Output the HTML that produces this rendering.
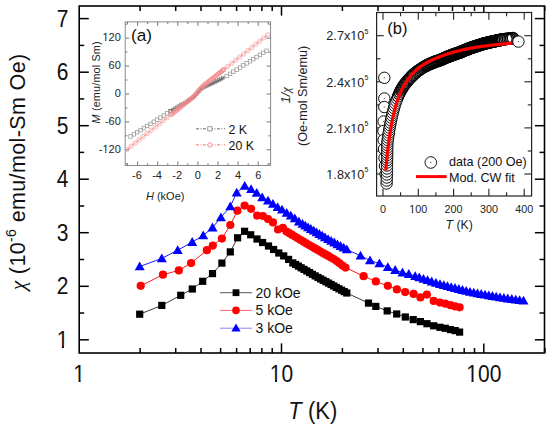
<!DOCTYPE html>
<html><head><meta charset="utf-8"><style>
html,body{margin:0;padding:0;background:#fff;}
body{width:550px;height:428px;overflow:hidden;font-family:"Liberation Sans", sans-serif;}
svg{display:block;}
</style></head><body>
<svg width="550" height="428" viewBox="0 0 550 428" font-family='"Liberation Sans", sans-serif'>
<rect width="550" height="428" fill="#fff"/>
<polyline points="139.7,314.2 161.8,305.4 180.7,295.3 192.3,289.0 202.7,281.3 212.5,273.6 221.9,263.1 230.3,251.9 237.6,237.8 244.6,231.3 250.7,234.8 257.0,239.0 262.6,242.5 268.5,246.0 273.6,249.5 278.8,253.0 283.7,255.9 288.6,259.4 292.8,262.9 295.6,264.5 298.4,266.1 301.2,267.8 304.0,269.4 306.8,271.0 309.6,272.6 312.4,274.3 315.2,275.9 318.0,277.5 320.6,278.9 323.2,280.3 325.9,281.7 328.5,283.1 331.1,284.5 333.7,286.0 336.3,287.4 338.9,288.8 341.6,290.2 344.2,291.6 346.8,293.0 368.5,303.1 375.8,306.4 387.2,310.9 396.7,314.0 405.3,317.0 413.2,319.6 420.4,321.6 427.0,323.7 433.7,325.8 440.0,327.3 445.3,328.3 450.5,329.6 455.2,330.6 459.6,332.1" fill="none" stroke="#222" stroke-width="0.9" />
<polyline points="140.7,285.8 163.0,274.7 178.8,270.4 191.1,263.1 206.9,250.2 212.8,245.6 221.9,238.6 230.3,225.0 237.4,210.7 244.6,205.6 251.1,208.8 257.2,215.6 262.9,216.0 268.0,219.1 273.0,222.4 278.0,229.5 282.9,227.9 286.5,231.5 289.3,233.2 292.1,234.9 295.0,236.6 297.8,238.3 300.6,240.0 303.5,241.7 306.3,243.4 309.1,245.1 311.8,246.6 314.5,248.2 317.3,249.7 320.0,251.3 322.7,252.8 325.4,254.4 328.2,255.9 330.9,257.5 333.6,259.0 336.6,261.1 339.6,263.3 342.5,265.5 345.5,267.6 363.6,276.2 375.8,281.4 387.8,285.8 396.9,289.4 405.2,292.1 413.6,293.9 420.4,297.4 426.9,294.6 433.7,300.9 440.0,302.6 445.3,303.7 450.5,305.2 455.2,306.4 459.6,307.3" fill="none" stroke="#f00" stroke-width="0.9" />
<polyline points="139.7,266.5 161.8,258.4 177.7,250.2 192.2,242.1 203.2,235.5 212.5,227.6 220.9,217.5 230.3,206.5 236.7,192.7 244.7,186.0 251.1,189.3 256.7,193.0 262.2,197.5 268.0,200.7 272.9,204.0 277.6,207.2 282.0,209.8 286.7,213.0 290.8,215.7 294.8,218.5 298.9,221.7 302.5,224.0 305.3,225.7 308.1,227.4 310.9,229.1 313.8,230.8 316.6,232.4 319.4,234.1 322.2,235.8 325.0,237.5 328.1,239.2 331.2,240.9 334.3,242.6 337.5,244.4 340.6,246.1 343.7,247.8 346.8,249.5 360.5,255.8 370.0,260.4 379.4,263.5 387.8,267.3 395.2,270.1 402.5,272.6 408.8,274.1 415.2,276.2 419.3,277.6 423.5,278.9 427.6,280.2 431.7,281.6 435.9,282.9 440.0,284.3 443.8,285.3 447.5,286.2 451.2,287.2 455.0,288.1 458.8,289.1 462.5,290.1 466.2,291.0 470.0,292.0 473.8,292.7 477.5,293.4 481.2,294.1 485.0,294.8 488.8,295.4 492.5,296.1 496.2,296.8 500.0,297.5 503.9,298.1 507.8,298.6 511.8,299.1 515.7,299.7 519.6,300.2 523.5,300.8" fill="none" stroke="#00f" stroke-width="0.9" />
<g fill="#000"><rect x="136.1" y="310.6" width="7.2" height="7.2"/><rect x="158.2" y="301.8" width="7.2" height="7.2"/><rect x="177.1" y="291.7" width="7.2" height="7.2"/><rect x="188.7" y="285.4" width="7.2" height="7.2"/><rect x="199.1" y="277.7" width="7.2" height="7.2"/><rect x="208.9" y="270.0" width="7.2" height="7.2"/><rect x="218.3" y="259.5" width="7.2" height="7.2"/><rect x="226.7" y="248.3" width="7.2" height="7.2"/><rect x="234.0" y="234.2" width="7.2" height="7.2"/><rect x="241.0" y="227.7" width="7.2" height="7.2"/><rect x="247.1" y="231.2" width="7.2" height="7.2"/><rect x="253.4" y="235.4" width="7.2" height="7.2"/><rect x="259.0" y="238.9" width="7.2" height="7.2"/><rect x="264.9" y="242.4" width="7.2" height="7.2"/><rect x="270.0" y="245.9" width="7.2" height="7.2"/><rect x="275.2" y="249.4" width="7.2" height="7.2"/><rect x="280.1" y="252.3" width="7.2" height="7.2"/><rect x="285.0" y="255.8" width="7.2" height="7.2"/><rect x="289.2" y="259.3" width="7.2" height="7.2"/><rect x="292.0" y="260.9" width="7.2" height="7.2"/><rect x="294.8" y="262.5" width="7.2" height="7.2"/><rect x="297.6" y="264.2" width="7.2" height="7.2"/><rect x="300.4" y="265.8" width="7.2" height="7.2"/><rect x="303.2" y="267.4" width="7.2" height="7.2"/><rect x="306.0" y="269.0" width="7.2" height="7.2"/><rect x="308.8" y="270.7" width="7.2" height="7.2"/><rect x="311.6" y="272.3" width="7.2" height="7.2"/><rect x="314.4" y="273.9" width="7.2" height="7.2"/><rect x="317.0" y="275.3" width="7.2" height="7.2"/><rect x="319.6" y="276.7" width="7.2" height="7.2"/><rect x="322.3" y="278.1" width="7.2" height="7.2"/><rect x="324.9" y="279.5" width="7.2" height="7.2"/><rect x="327.5" y="280.9" width="7.2" height="7.2"/><rect x="330.1" y="282.4" width="7.2" height="7.2"/><rect x="332.7" y="283.8" width="7.2" height="7.2"/><rect x="335.3" y="285.2" width="7.2" height="7.2"/><rect x="338.0" y="286.6" width="7.2" height="7.2"/><rect x="340.6" y="288.0" width="7.2" height="7.2"/><rect x="343.2" y="289.4" width="7.2" height="7.2"/><rect x="364.9" y="299.5" width="7.2" height="7.2"/><rect x="372.2" y="302.8" width="7.2" height="7.2"/><rect x="383.6" y="307.3" width="7.2" height="7.2"/><rect x="393.1" y="310.4" width="7.2" height="7.2"/><rect x="401.7" y="313.4" width="7.2" height="7.2"/><rect x="409.6" y="316.0" width="7.2" height="7.2"/><rect x="416.8" y="318.0" width="7.2" height="7.2"/><rect x="423.4" y="320.1" width="7.2" height="7.2"/><rect x="430.1" y="322.2" width="7.2" height="7.2"/><rect x="436.4" y="323.7" width="7.2" height="7.2"/><rect x="441.7" y="324.7" width="7.2" height="7.2"/><rect x="446.9" y="326.0" width="7.2" height="7.2"/><rect x="451.6" y="327.0" width="7.2" height="7.2"/><rect x="456.0" y="328.5" width="7.2" height="7.2"/></g>
<g fill="#f00"><circle cx="140.7" cy="285.8" r="4.1"/><circle cx="163.0" cy="274.7" r="4.1"/><circle cx="178.8" cy="270.4" r="4.1"/><circle cx="191.1" cy="263.1" r="4.1"/><circle cx="206.9" cy="250.2" r="4.1"/><circle cx="212.8" cy="245.6" r="4.1"/><circle cx="221.9" cy="238.6" r="4.1"/><circle cx="230.3" cy="225.0" r="4.1"/><circle cx="237.4" cy="210.7" r="4.1"/><circle cx="244.6" cy="205.6" r="4.1"/><circle cx="251.1" cy="208.8" r="4.1"/><circle cx="257.2" cy="215.6" r="4.1"/><circle cx="262.9" cy="216.0" r="4.1"/><circle cx="268.0" cy="219.1" r="4.1"/><circle cx="273.0" cy="222.4" r="4.1"/><circle cx="278.0" cy="229.5" r="4.1"/><circle cx="282.9" cy="227.9" r="4.1"/><circle cx="286.5" cy="231.5" r="4.1"/><circle cx="289.3" cy="233.2" r="4.1"/><circle cx="292.1" cy="234.9" r="4.1"/><circle cx="295.0" cy="236.6" r="4.1"/><circle cx="297.8" cy="238.3" r="4.1"/><circle cx="300.6" cy="240.0" r="4.1"/><circle cx="303.5" cy="241.7" r="4.1"/><circle cx="306.3" cy="243.4" r="4.1"/><circle cx="309.1" cy="245.1" r="4.1"/><circle cx="311.8" cy="246.6" r="4.1"/><circle cx="314.5" cy="248.2" r="4.1"/><circle cx="317.3" cy="249.7" r="4.1"/><circle cx="320.0" cy="251.3" r="4.1"/><circle cx="322.7" cy="252.8" r="4.1"/><circle cx="325.4" cy="254.4" r="4.1"/><circle cx="328.2" cy="255.9" r="4.1"/><circle cx="330.9" cy="257.5" r="4.1"/><circle cx="333.6" cy="259.0" r="4.1"/><circle cx="336.6" cy="261.1" r="4.1"/><circle cx="339.6" cy="263.3" r="4.1"/><circle cx="342.5" cy="265.5" r="4.1"/><circle cx="345.5" cy="267.6" r="4.1"/><circle cx="363.6" cy="276.2" r="4.1"/><circle cx="375.8" cy="281.4" r="4.1"/><circle cx="387.8" cy="285.8" r="4.1"/><circle cx="396.9" cy="289.4" r="4.1"/><circle cx="405.2" cy="292.1" r="4.1"/><circle cx="413.6" cy="293.9" r="4.1"/><circle cx="420.4" cy="297.4" r="4.1"/><circle cx="426.9" cy="294.6" r="4.1"/><circle cx="433.7" cy="300.9" r="4.1"/><circle cx="440.0" cy="302.6" r="4.1"/><circle cx="445.3" cy="303.7" r="4.1"/><circle cx="450.5" cy="305.2" r="4.1"/><circle cx="455.2" cy="306.4" r="4.1"/><circle cx="459.6" cy="307.3" r="4.1"/></g>
<g fill="#00f"><path d="M139.7 261.5L144.7 270.3L134.7 270.3Z"/><path d="M161.8 253.4L166.8 262.2L156.8 262.2Z"/><path d="M177.7 245.2L182.7 254.0L172.7 254.0Z"/><path d="M192.2 237.1L197.2 245.9L187.2 245.9Z"/><path d="M203.2 230.5L208.2 239.3L198.2 239.3Z"/><path d="M212.5 222.6L217.5 231.4L207.5 231.4Z"/><path d="M220.9 212.5L225.9 221.3L215.9 221.3Z"/><path d="M230.3 201.5L235.3 210.3L225.3 210.3Z"/><path d="M236.7 187.7L241.7 196.5L231.7 196.5Z"/><path d="M244.7 181.0L249.7 189.8L239.7 189.8Z"/><path d="M251.1 184.3L256.1 193.1L246.1 193.1Z"/><path d="M256.7 188.0L261.7 196.8L251.7 196.8Z"/><path d="M262.2 192.5L267.2 201.3L257.2 201.3Z"/><path d="M268.0 195.7L273.0 204.5L263.0 204.5Z"/><path d="M272.9 199.0L277.9 207.8L267.9 207.8Z"/><path d="M277.6 202.2L282.6 211.0L272.6 211.0Z"/><path d="M282.0 204.8L287.0 213.6L277.0 213.6Z"/><path d="M286.7 208.0L291.7 216.8L281.7 216.8Z"/><path d="M290.8 210.7L295.8 219.5L285.8 219.5Z"/><path d="M294.8 213.5L299.8 222.3L289.8 222.3Z"/><path d="M298.9 216.7L303.9 225.5L293.9 225.5Z"/><path d="M302.5 219.0L307.5 227.8L297.5 227.8Z"/><path d="M305.3 220.7L310.3 229.5L300.3 229.5Z"/><path d="M308.1 222.4L313.1 231.2L303.1 231.2Z"/><path d="M310.9 224.1L315.9 232.9L305.9 232.9Z"/><path d="M313.8 225.8L318.8 234.6L308.8 234.6Z"/><path d="M316.6 227.4L321.6 236.2L311.6 236.2Z"/><path d="M319.4 229.1L324.4 237.9L314.4 237.9Z"/><path d="M322.2 230.8L327.2 239.6L317.2 239.6Z"/><path d="M325.0 232.5L330.0 241.3L320.0 241.3Z"/><path d="M328.1 234.2L333.1 243.0L323.1 243.0Z"/><path d="M331.2 235.9L336.2 244.7L326.2 244.7Z"/><path d="M334.3 237.6L339.3 246.4L329.3 246.4Z"/><path d="M337.5 239.4L342.5 248.2L332.5 248.2Z"/><path d="M340.6 241.1L345.6 249.9L335.6 249.9Z"/><path d="M343.7 242.8L348.7 251.6L338.7 251.6Z"/><path d="M346.8 244.5L351.8 253.3L341.8 253.3Z"/><path d="M360.5 250.8L365.5 259.6L355.5 259.6Z"/><path d="M370.0 255.4L375.0 264.2L365.0 264.2Z"/><path d="M379.4 258.5L384.4 267.3L374.4 267.3Z"/><path d="M387.8 262.3L392.8 271.1L382.8 271.1Z"/><path d="M395.2 265.1L400.2 273.9L390.2 273.9Z"/><path d="M402.5 267.6L407.5 276.4L397.5 276.4Z"/><path d="M408.8 269.1L413.8 277.9L403.8 277.9Z"/><path d="M415.2 271.2L420.2 280.0L410.2 280.0Z"/><path d="M419.3 272.6L424.3 281.3L414.3 281.3Z"/><path d="M423.5 273.9L428.5 282.7L418.5 282.7Z"/><path d="M427.6 275.2L432.6 284.0L422.6 284.0Z"/><path d="M431.7 276.6L436.7 285.4L426.7 285.4Z"/><path d="M435.9 277.9L440.9 286.7L430.9 286.7Z"/><path d="M440.0 279.3L445.0 288.1L435.0 288.1Z"/><path d="M443.8 280.3L448.8 289.1L438.8 289.1Z"/><path d="M447.5 281.2L452.5 290.0L442.5 290.0Z"/><path d="M451.2 282.2L456.2 291.0L446.2 291.0Z"/><path d="M455.0 283.1L460.0 291.9L450.0 291.9Z"/><path d="M458.8 284.1L463.8 292.9L453.8 292.9Z"/><path d="M462.5 285.1L467.5 293.9L457.5 293.9Z"/><path d="M466.2 286.0L471.2 294.8L461.2 294.8Z"/><path d="M470.0 287.0L475.0 295.8L465.0 295.8Z"/><path d="M473.8 287.7L478.8 296.5L468.8 296.5Z"/><path d="M477.5 288.4L482.5 297.2L472.5 297.2Z"/><path d="M481.2 289.1L486.2 297.9L476.2 297.9Z"/><path d="M485.0 289.8L490.0 298.5L480.0 298.5Z"/><path d="M488.8 290.4L493.8 299.2L483.8 299.2Z"/><path d="M492.5 291.1L497.5 299.9L487.5 299.9Z"/><path d="M496.2 291.8L501.2 300.6L491.2 300.6Z"/><path d="M500.0 292.5L505.0 301.3L495.0 301.3Z"/><path d="M503.9 293.1L508.9 301.8L498.9 301.8Z"/><path d="M507.8 293.6L512.8 302.4L502.8 302.4Z"/><path d="M511.8 294.1L516.8 302.9L506.8 302.9Z"/><path d="M515.7 294.7L520.7 303.5L510.7 303.5Z"/><path d="M519.6 295.2L524.6 304.0L514.6 304.0Z"/><path d="M523.5 295.8L528.5 304.6L518.5 304.6Z"/></g>
<line x1="220" y1="292.7" x2="252" y2="292.7" stroke="#555" stroke-width="1"/><rect x="232.6" y="289.3" width="6.8" height="6.8" fill="#000"/>
<line x1="220" y1="310.4" x2="252" y2="310.4" stroke="#f66" stroke-width="1"/><circle cx="236" cy="310.4" r="3.8" fill="#f00"/>
<line x1="220" y1="328.2" x2="252" y2="328.2" stroke="#88f" stroke-width="1"/><path d="M236 323.59999999999997L240.6 331.59999999999997L231.4 331.59999999999997Z" fill="#00f"/>
<g font-size="14" fill="#111"><text x="255.5" y="297.5">20 kOe</text><text x="255.5" y="315.2">5 kOe</text><text x="255.5" y="333">3 kOe</text></g>
<g stroke="#000" stroke-width="1.5"><rect x="79.2" y="6.0" width="465.3" height="347.0" fill="none" stroke="#000" stroke-width="1.6"/><line x1="140.1" y1="353.0" x2="140.1" y2="348.0"/><line x1="140.1" y1="6.0" x2="140.1" y2="11.0"/><line x1="175.7" y1="353.0" x2="175.7" y2="348.0"/><line x1="175.7" y1="6.0" x2="175.7" y2="11.0"/><line x1="201.0" y1="353.0" x2="201.0" y2="348.0"/><line x1="201.0" y1="6.0" x2="201.0" y2="11.0"/><line x1="220.6" y1="353.0" x2="220.6" y2="348.0"/><line x1="220.6" y1="6.0" x2="220.6" y2="11.0"/><line x1="236.6" y1="353.0" x2="236.6" y2="348.0"/><line x1="236.6" y1="6.0" x2="236.6" y2="11.0"/><line x1="250.2" y1="353.0" x2="250.2" y2="348.0"/><line x1="250.2" y1="6.0" x2="250.2" y2="11.0"/><line x1="261.9" y1="353.0" x2="261.9" y2="348.0"/><line x1="261.9" y1="6.0" x2="261.9" y2="11.0"/><line x1="272.2" y1="353.0" x2="272.2" y2="348.0"/><line x1="272.2" y1="6.0" x2="272.2" y2="11.0"/><line x1="281.5" y1="353.0" x2="281.5" y2="343.4"/><line x1="281.5" y1="6.0" x2="281.5" y2="15.6"/><line x1="342.4" y1="353.0" x2="342.4" y2="348.0"/><line x1="342.4" y1="6.0" x2="342.4" y2="11.0"/><line x1="378.0" y1="353.0" x2="378.0" y2="348.0"/><line x1="378.0" y1="6.0" x2="378.0" y2="11.0"/><line x1="403.3" y1="353.0" x2="403.3" y2="348.0"/><line x1="403.3" y1="6.0" x2="403.3" y2="11.0"/><line x1="422.9" y1="353.0" x2="422.9" y2="348.0"/><line x1="422.9" y1="6.0" x2="422.9" y2="11.0"/><line x1="438.9" y1="353.0" x2="438.9" y2="348.0"/><line x1="438.9" y1="6.0" x2="438.9" y2="11.0"/><line x1="452.5" y1="353.0" x2="452.5" y2="348.0"/><line x1="452.5" y1="6.0" x2="452.5" y2="11.0"/><line x1="464.2" y1="353.0" x2="464.2" y2="348.0"/><line x1="464.2" y1="6.0" x2="464.2" y2="11.0"/><line x1="474.5" y1="353.0" x2="474.5" y2="348.0"/><line x1="474.5" y1="6.0" x2="474.5" y2="11.0"/><line x1="483.8" y1="353.0" x2="483.8" y2="343.4"/><line x1="483.8" y1="6.0" x2="483.8" y2="15.6"/><line x1="544.7" y1="353.0" x2="544.7" y2="348.0"/><line x1="544.7" y1="6.0" x2="544.7" y2="11.0"/><line x1="544.7" y1="353.0" x2="544.7" y2="348.0"/><line x1="79.2" y1="339.8" x2="88.8" y2="339.8"/><line x1="544.5" y1="339.8" x2="534.9" y2="339.8"/><line x1="79.2" y1="313.0" x2="84.2" y2="313.0"/><line x1="544.5" y1="313.0" x2="539.5" y2="313.0"/><line x1="79.2" y1="286.3" x2="88.8" y2="286.3"/><line x1="544.5" y1="286.3" x2="534.9" y2="286.3"/><line x1="79.2" y1="259.5" x2="84.2" y2="259.5"/><line x1="544.5" y1="259.5" x2="539.5" y2="259.5"/><line x1="79.2" y1="232.7" x2="88.8" y2="232.7"/><line x1="544.5" y1="232.7" x2="534.9" y2="232.7"/><line x1="79.2" y1="206.0" x2="84.2" y2="206.0"/><line x1="544.5" y1="206.0" x2="539.5" y2="206.0"/><line x1="79.2" y1="179.2" x2="88.8" y2="179.2"/><line x1="544.5" y1="179.2" x2="534.9" y2="179.2"/><line x1="79.2" y1="152.4" x2="84.2" y2="152.4"/><line x1="544.5" y1="152.4" x2="539.5" y2="152.4"/><line x1="79.2" y1="125.7" x2="88.8" y2="125.7"/><line x1="544.5" y1="125.7" x2="534.9" y2="125.7"/><line x1="79.2" y1="98.9" x2="84.2" y2="98.9"/><line x1="544.5" y1="98.9" x2="539.5" y2="98.9"/><line x1="79.2" y1="72.2" x2="88.8" y2="72.2"/><line x1="544.5" y1="72.2" x2="534.9" y2="72.2"/><line x1="79.2" y1="45.4" x2="84.2" y2="45.4"/><line x1="544.5" y1="45.4" x2="539.5" y2="45.4"/><line x1="79.2" y1="18.6" x2="88.8" y2="18.6"/><line x1="544.5" y1="18.6" x2="534.9" y2="18.6"/></g>
<g transform="translate(79.20,382.20) scale(1,1.15)"><text font-size="21" fill="#111" text-anchor="middle">1</text><g fill="#fff"><rect x="-4.94" y="-2.02" width="4.28" height="2.47"/><rect x="1.40" y="-2.02" width="4.11" height="2.47"/></g></g><g transform="translate(281.50,382.20) scale(1,1.15)"><text font-size="21" fill="#111" text-anchor="middle">10</text><g fill="#fff"><rect x="-10.78" y="-2.02" width="4.28" height="2.47"/><rect x="-4.44" y="-2.02" width="4.11" height="2.47"/></g></g><g transform="translate(483.80,382.20) scale(1,1.15)"><text font-size="21" fill="#111" text-anchor="middle">100</text><g fill="#fff"><rect x="-16.62" y="-2.02" width="4.28" height="2.47"/><rect x="-10.28" y="-2.02" width="4.11" height="2.47"/></g></g><g transform="translate(68.40,347.70) scale(1,1.15)"><text font-size="21" fill="#111" text-anchor="end">1</text><g fill="#fff"><rect x="-10.78" y="-2.02" width="4.28" height="2.47"/><rect x="-4.44" y="-2.02" width="4.11" height="2.47"/></g></g><g transform="translate(68.40,294.17) scale(1,1.15)"><text font-size="21" fill="#111" text-anchor="end">2</text></g><g transform="translate(68.40,240.64) scale(1,1.15)"><text font-size="21" fill="#111" text-anchor="end">3</text></g><g transform="translate(68.40,187.11) scale(1,1.15)"><text font-size="21" fill="#111" text-anchor="end">4</text></g><g transform="translate(68.40,133.58) scale(1,1.15)"><text font-size="21" fill="#111" text-anchor="end">5</text></g><g transform="translate(68.40,80.05) scale(1,1.15)"><text font-size="21" fill="#111" text-anchor="end">6</text></g><g transform="translate(68.40,26.52) scale(1,1.15)"><text font-size="21" fill="#111" text-anchor="end">7</text></g>
<text transform="translate(312.80,418.50) scale(1,1.06)" font-size="22" fill="#111" text-anchor="middle" ><tspan font-style="italic">T</tspan> (K)</text>
<text transform="translate(25,290.3) rotate(-90)" font-size="21.5" fill="#111" textLength="236.5" lengthAdjust="spacing"><tspan font-family="Liberation Serif" font-style="italic">χ</tspan> (10<tspan font-size="14" dy="-9.3">-6</tspan><tspan dy="9.3"> emu/mol-Sm Oe)</tspan></text>
<rect x="125.2" y="21.9" width="145.40000000000003" height="143.6" fill="#fff" stroke="#8a8a8a" stroke-width="1"/><g stroke="#777" stroke-width="1"><line x1="127.5" y1="165.5" x2="127.5" y2="163.3"/><line x1="127.5" y1="21.9" x2="127.5" y2="24.099999999999998"/><line x1="137.6" y1="165.5" x2="137.6" y2="161.5"/><line x1="137.6" y1="21.9" x2="137.6" y2="25.9"/><line x1="147.7" y1="165.5" x2="147.7" y2="163.3"/><line x1="147.7" y1="21.9" x2="147.7" y2="24.099999999999998"/><line x1="157.7" y1="165.5" x2="157.7" y2="161.5"/><line x1="157.7" y1="21.9" x2="157.7" y2="25.9"/><line x1="167.8" y1="165.5" x2="167.8" y2="163.3"/><line x1="167.8" y1="21.9" x2="167.8" y2="24.099999999999998"/><line x1="177.8" y1="165.5" x2="177.8" y2="161.5"/><line x1="177.8" y1="21.9" x2="177.8" y2="25.9"/><line x1="187.8" y1="165.5" x2="187.8" y2="163.3"/><line x1="187.8" y1="21.9" x2="187.8" y2="24.099999999999998"/><line x1="197.9" y1="165.5" x2="197.9" y2="161.5"/><line x1="197.9" y1="21.9" x2="197.9" y2="25.9"/><line x1="208.0" y1="165.5" x2="208.0" y2="163.3"/><line x1="208.0" y1="21.9" x2="208.0" y2="24.099999999999998"/><line x1="218.0" y1="165.5" x2="218.0" y2="161.5"/><line x1="218.0" y1="21.9" x2="218.0" y2="25.9"/><line x1="228.1" y1="165.5" x2="228.1" y2="163.3"/><line x1="228.1" y1="21.9" x2="228.1" y2="24.099999999999998"/><line x1="238.1" y1="165.5" x2="238.1" y2="161.5"/><line x1="238.1" y1="21.9" x2="238.1" y2="25.9"/><line x1="248.2" y1="165.5" x2="248.2" y2="163.3"/><line x1="248.2" y1="21.9" x2="248.2" y2="24.099999999999998"/><line x1="258.2" y1="165.5" x2="258.2" y2="161.5"/><line x1="258.2" y1="21.9" x2="258.2" y2="25.9"/><line x1="268.2" y1="165.5" x2="268.2" y2="163.3"/><line x1="268.2" y1="21.9" x2="268.2" y2="24.099999999999998"/><line x1="125.2" y1="163.8" x2="127.4" y2="163.8"/><line x1="270.6" y1="163.8" x2="268.40000000000003" y2="163.8"/><line x1="125.2" y1="149.8" x2="129.2" y2="149.8"/><line x1="270.6" y1="149.8" x2="266.6" y2="149.8"/><line x1="125.2" y1="135.8" x2="127.4" y2="135.8"/><line x1="270.6" y1="135.8" x2="268.40000000000003" y2="135.8"/><line x1="125.2" y1="121.9" x2="129.2" y2="121.9"/><line x1="270.6" y1="121.9" x2="266.6" y2="121.9"/><line x1="125.2" y1="108.0" x2="127.4" y2="108.0"/><line x1="270.6" y1="108.0" x2="268.40000000000003" y2="108.0"/><line x1="125.2" y1="94.0" x2="129.2" y2="94.0"/><line x1="270.6" y1="94.0" x2="266.6" y2="94.0"/><line x1="125.2" y1="80.0" x2="127.4" y2="80.0"/><line x1="270.6" y1="80.0" x2="268.40000000000003" y2="80.0"/><line x1="125.2" y1="66.1" x2="129.2" y2="66.1"/><line x1="270.6" y1="66.1" x2="266.6" y2="66.1"/><line x1="125.2" y1="52.1" x2="127.4" y2="52.1"/><line x1="270.6" y1="52.1" x2="268.40000000000003" y2="52.1"/><line x1="125.2" y1="38.2" x2="129.2" y2="38.2"/><line x1="270.6" y1="38.2" x2="266.6" y2="38.2"/><line x1="125.2" y1="24.2" x2="127.4" y2="24.2"/><line x1="270.6" y1="24.2" x2="268.40000000000003" y2="24.2"/></g><g font-size="11" fill="#222"><text x="137.0" y="178.7" text-anchor="middle">-6</text><text x="157.1" y="178.7" text-anchor="middle">-4</text><text x="177.2" y="178.7" text-anchor="middle">-2</text><text x="197.9" y="178.7" text-anchor="middle">0</text><text x="218.0" y="178.7" text-anchor="middle">2</text><text x="238.1" y="178.7" text-anchor="middle">4</text><text x="258.2" y="178.7" text-anchor="middle">6</text><g transform="translate(120.80,152.70) scale(1,1.0)"><text font-size="11" fill="#222" text-anchor="end">-120</text><g fill="#fff"><rect x="-18.22" y="-1.27" width="2.57" height="1.72"/><rect x="-14.56" y="-1.27" width="2.49" height="1.72"/></g></g><g transform="translate(120.80,124.80) scale(1,1.0)"><text font-size="11" fill="#222" text-anchor="end">-60</text></g><g transform="translate(120.80,96.90) scale(1,1.0)"><text font-size="11" fill="#222" text-anchor="end">0</text></g><g transform="translate(120.80,69.00) scale(1,1.0)"><text font-size="11" fill="#222" text-anchor="end">60</text></g><g transform="translate(120.80,41.10) scale(1,1.0)"><text font-size="11" fill="#222" text-anchor="end">120</text><g fill="#fff"><rect x="-18.22" y="-1.27" width="2.57" height="1.72"/><rect x="-14.56" y="-1.27" width="2.49" height="1.72"/></g></g></g><text x="165.2" y="199.6" font-size="11" fill="#222" text-anchor="middle"><tspan font-style="italic">H</tspan> (kOe)</text><text transform="translate(99.8,123.4) rotate(-90)" font-size="10.8" fill="#222" textLength="82" lengthAdjust="spacing"><tspan font-style="italic">M</tspan> (emu/mol Sm)</text><text transform="translate(131.00,41.30) scale(1,0.95)" font-size="17.2" fill="#111" text-anchor="start" >(a)</text><g fill="none" stroke="#9a9a9a" stroke-width="0.75"><rect x="128.8" y="134.7" width="3.5" height="3.5"/><rect x="132.1" y="132.6" width="3.5" height="3.5"/><rect x="135.4" y="130.5" width="3.5" height="3.5"/><rect x="138.8" y="128.4" width="3.5" height="3.5"/><rect x="142.1" y="126.3" width="3.5" height="3.5"/><rect x="145.4" y="124.2" width="3.5" height="3.5"/><rect x="148.7" y="122.1" width="3.5" height="3.5"/><rect x="152.0" y="120.0" width="3.5" height="3.5"/><rect x="155.3" y="117.9" width="3.5" height="3.5"/><rect x="158.7" y="115.8" width="3.5" height="3.5"/><rect x="162.0" y="113.7" width="3.5" height="3.5"/><rect x="165.3" y="111.6" width="3.5" height="3.5"/><rect x="168.6" y="109.5" width="3.5" height="3.5"/><rect x="225.0" y="74.2" width="3.5" height="3.5"/><rect x="228.3" y="72.1" width="3.5" height="3.5"/><rect x="231.6" y="70.0" width="3.5" height="3.5"/><rect x="234.9" y="67.9" width="3.5" height="3.5"/><rect x="238.3" y="65.8" width="3.5" height="3.5"/><rect x="241.6" y="63.7" width="3.5" height="3.5"/><rect x="244.9" y="61.6" width="3.5" height="3.5"/><rect x="248.2" y="59.5" width="3.5" height="3.5"/><rect x="251.5" y="57.4" width="3.5" height="3.5"/><rect x="254.8" y="55.3" width="3.5" height="3.5"/><rect x="258.2" y="53.2" width="3.5" height="3.5"/><rect x="261.5" y="51.1" width="3.5" height="3.5"/><rect x="264.8" y="49.0" width="3.5" height="3.5"/></g><polyline points="170.8,111.0 171.8,110.3 172.8,109.8 173.8,109.2 174.8,108.6 175.8,108.1 176.8,107.5 177.8,106.9 178.8,106.4 179.8,105.8 180.8,105.2 181.8,104.6 182.8,104.0 183.8,103.4 184.8,102.8 185.8,102.2 186.8,101.6 187.9,100.9 188.9,100.3 189.9,99.7 190.9,99.0 191.9,98.4 192.9,97.7 193.9,97.0 194.9,96.1 195.9,95.2 196.9,94.0 197.9,92.7 198.9,91.4 199.9,90.3 200.9,89.4 201.9,88.6 202.9,88.0 203.9,87.4 204.9,86.9 205.9,86.4 206.9,86.0 208.0,85.5 209.0,85.0 210.0,84.6 211.0,84.1 212.0,83.6 213.0,83.2 214.0,82.7 215.0,82.2 216.0,81.7 217.0,81.2 218.0,80.7 219.0,80.2 220.0,79.7 221.0,79.2 222.0,78.7 223.0,78.1 224.0,77.6" fill="none" stroke="#555" stroke-width="1.8" stroke-linejoin="round" opacity="0.8"/><g fill="none" stroke="#666" stroke-width="0.5"><rect x="169.2" y="109.4" width="3.2" height="3.2"/><rect x="171.2" y="108.2" width="3.2" height="3.2"/><rect x="173.2" y="107.0" width="3.2" height="3.2"/><rect x="175.2" y="105.9" width="3.2" height="3.2"/><rect x="177.2" y="104.8" width="3.2" height="3.2"/><rect x="179.2" y="103.6" width="3.2" height="3.2"/><rect x="181.2" y="102.4" width="3.2" height="3.2"/><rect x="183.2" y="101.2" width="3.2" height="3.2"/><rect x="185.2" y="100.0" width="3.2" height="3.2"/><rect x="187.3" y="98.7" width="3.2" height="3.2"/><rect x="189.3" y="97.4" width="3.2" height="3.2"/><rect x="191.3" y="96.1" width="3.2" height="3.2"/><rect x="193.3" y="94.5" width="3.2" height="3.2"/><rect x="195.3" y="92.4" width="3.2" height="3.2"/><rect x="197.3" y="89.8" width="3.2" height="3.2"/><rect x="199.3" y="87.8" width="3.2" height="3.2"/><rect x="201.3" y="86.4" width="3.2" height="3.2"/><rect x="203.3" y="85.3" width="3.2" height="3.2"/><rect x="205.3" y="84.4" width="3.2" height="3.2"/><rect x="207.4" y="83.4" width="3.2" height="3.2"/><rect x="209.4" y="82.5" width="3.2" height="3.2"/><rect x="211.4" y="81.6" width="3.2" height="3.2"/><rect x="213.4" y="80.6" width="3.2" height="3.2"/><rect x="215.4" y="79.6" width="3.2" height="3.2"/><rect x="217.4" y="78.6" width="3.2" height="3.2"/><rect x="219.4" y="77.6" width="3.2" height="3.2"/><rect x="221.4" y="76.5" width="3.2" height="3.2"/></g><polyline points="127.0,149.4 131.1,146.2 135.1,143.0 139.1,139.8 143.1,136.6 147.1,133.5 151.2,130.3 155.2,127.1 159.2,123.9 163.2,120.7 167.2,117.6 171.3,114.4 171.8,114.0 173.0,113.0 174.2,112.1 175.4,111.1 176.6,110.2 177.8,109.2 179.0,108.3 180.2,107.3 181.4,106.3 182.6,105.4 183.8,104.4 185.0,103.5 186.2,102.5 187.4,101.6 188.7,100.6 189.9,99.6 191.1,98.6 192.3,97.6 193.5,96.6 194.7,95.4 195.9,94.1 197.1,92.7 198.3,91.2 199.5,89.7 200.7,88.4 201.9,87.2 203.1,86.1 204.3,85.0 205.5,84.0 206.7,83.1 208.0,82.1 209.2,81.1 210.4,80.2 211.6,79.2 212.8,78.3 214.0,77.3 215.2,76.4 216.4,75.4 217.6,74.5 218.8,73.5 220.0,72.6 221.2,71.6 222.4,70.6 223.5,69.8 223.6,69.7 227.5,66.6 231.6,63.4 235.6,60.2 239.6,57.0 243.6,53.9 247.6,50.7 251.7,47.5 255.7,44.3 259.7,41.1 263.7,38.0 267.7,34.8" fill="none" stroke="#f66" stroke-width="0.7" /><g fill="none" stroke="#f59a9a" stroke-width="0.75"><circle cx="127.0" cy="149.4" r="2.2"/><circle cx="131.1" cy="146.2" r="2.2"/><circle cx="135.1" cy="143.0" r="2.2"/><circle cx="139.1" cy="139.8" r="2.2"/><circle cx="143.1" cy="136.6" r="2.2"/><circle cx="147.1" cy="133.5" r="2.2"/><circle cx="151.2" cy="130.3" r="2.2"/><circle cx="155.2" cy="127.1" r="2.2"/><circle cx="159.2" cy="123.9" r="2.2"/><circle cx="163.2" cy="120.7" r="2.2"/><circle cx="167.2" cy="117.6" r="2.2"/><circle cx="171.3" cy="114.4" r="2.2"/><circle cx="223.5" cy="69.8" r="2.2"/><circle cx="227.5" cy="66.6" r="2.2"/><circle cx="231.6" cy="63.4" r="2.2"/><circle cx="235.6" cy="60.2" r="2.2"/><circle cx="239.6" cy="57.0" r="2.2"/><circle cx="243.6" cy="53.9" r="2.2"/><circle cx="247.6" cy="50.7" r="2.2"/><circle cx="251.7" cy="47.5" r="2.2"/><circle cx="255.7" cy="44.3" r="2.2"/><circle cx="259.7" cy="41.1" r="2.2"/><circle cx="263.7" cy="38.0" r="2.2"/><circle cx="267.7" cy="34.8" r="2.2"/></g><g fill="none" stroke="#f48a8a" stroke-width="0.8"><circle cx="171.8" cy="114.0" r="2.1"/><circle cx="173.0" cy="113.0" r="2.1"/><circle cx="174.2" cy="112.1" r="2.1"/><circle cx="175.4" cy="111.1" r="2.1"/><circle cx="176.6" cy="110.2" r="2.1"/><circle cx="177.8" cy="109.2" r="2.1"/><circle cx="179.0" cy="108.3" r="2.1"/><circle cx="180.2" cy="107.3" r="2.1"/><circle cx="181.4" cy="106.3" r="2.1"/><circle cx="182.6" cy="105.4" r="2.1"/><circle cx="183.8" cy="104.4" r="2.1"/><circle cx="185.0" cy="103.5" r="2.1"/><circle cx="186.2" cy="102.5" r="2.1"/><circle cx="187.4" cy="101.6" r="2.1"/><circle cx="188.7" cy="100.6" r="2.1"/><circle cx="189.9" cy="99.6" r="2.1"/><circle cx="191.1" cy="98.6" r="2.1"/><circle cx="192.3" cy="97.6" r="2.1"/><circle cx="193.5" cy="96.6" r="2.1"/><circle cx="194.7" cy="95.4" r="2.1"/><circle cx="195.9" cy="94.1" r="2.1"/><circle cx="197.1" cy="92.7" r="2.1"/><circle cx="198.3" cy="91.2" r="2.1"/><circle cx="199.5" cy="89.7" r="2.1"/><circle cx="200.7" cy="88.4" r="2.1"/><circle cx="201.9" cy="87.2" r="2.1"/><circle cx="203.1" cy="86.1" r="2.1"/><circle cx="204.3" cy="85.0" r="2.1"/><circle cx="205.5" cy="84.0" r="2.1"/><circle cx="206.7" cy="83.1" r="2.1"/><circle cx="208.0" cy="82.1" r="2.1"/><circle cx="209.2" cy="81.1" r="2.1"/><circle cx="210.4" cy="80.2" r="2.1"/><circle cx="211.6" cy="79.2" r="2.1"/><circle cx="212.8" cy="78.3" r="2.1"/><circle cx="214.0" cy="77.3" r="2.1"/><circle cx="215.2" cy="76.4" r="2.1"/><circle cx="216.4" cy="75.4" r="2.1"/><circle cx="217.6" cy="74.5" r="2.1"/><circle cx="218.8" cy="73.5" r="2.1"/><circle cx="220.0" cy="72.6" r="2.1"/><circle cx="221.2" cy="71.6" r="2.1"/><circle cx="222.4" cy="70.6" r="2.1"/><circle cx="223.6" cy="69.7" r="2.1"/></g><line x1="196" y1="128.8" x2="225" y2="128.8" stroke="#444" stroke-width="0.8" stroke-dasharray="3 1.5 1 1.5"/><rect x="207.8" y="126.7" width="4.2" height="4.2" fill="#fff" stroke="#888" stroke-width="0.8"/><line x1="196" y1="144.9" x2="225" y2="144.9" stroke="#f44" stroke-width="0.8" stroke-dasharray="3 1.5 1 1.5"/><circle cx="210" cy="144.9" r="2.2" fill="#fff" stroke="#f27070" stroke-width="0.8"/><g font-size="12.4" fill="#111"><text x="228.5" y="134">2 K</text><text x="228.5" y="150">20 K</text></g>
<rect x="376.6" y="12.5" width="155.0" height="183.5" fill="#fff" stroke="#222" stroke-width="1.2"/><g stroke="#222" stroke-width="1.1"><line x1="383.0" y1="196.0" x2="383.0" y2="188.8"/><line x1="383.0" y1="12.5" x2="383.0" y2="19.7"/><line x1="400.6" y1="196.0" x2="400.6" y2="192.2"/><line x1="400.6" y1="12.5" x2="400.6" y2="16.3"/><line x1="418.3" y1="196.0" x2="418.3" y2="188.8"/><line x1="418.3" y1="12.5" x2="418.3" y2="19.7"/><line x1="435.9" y1="196.0" x2="435.9" y2="192.2"/><line x1="435.9" y1="12.5" x2="435.9" y2="16.3"/><line x1="453.6" y1="196.0" x2="453.6" y2="188.8"/><line x1="453.6" y1="12.5" x2="453.6" y2="19.7"/><line x1="471.2" y1="196.0" x2="471.2" y2="192.2"/><line x1="471.2" y1="12.5" x2="471.2" y2="16.3"/><line x1="488.9" y1="196.0" x2="488.9" y2="188.8"/><line x1="488.9" y1="12.5" x2="488.9" y2="19.7"/><line x1="506.6" y1="196.0" x2="506.6" y2="192.2"/><line x1="506.6" y1="12.5" x2="506.6" y2="16.3"/><line x1="524.2" y1="196.0" x2="524.2" y2="188.8"/><line x1="524.2" y1="12.5" x2="524.2" y2="19.7"/><line x1="376.6" y1="174.0" x2="383.8" y2="174.0"/><line x1="531.6" y1="174.0" x2="524.4" y2="174.0"/><line x1="376.6" y1="151.0" x2="380.40000000000003" y2="151.0"/><line x1="531.6" y1="151.0" x2="527.8000000000001" y2="151.0"/><line x1="376.6" y1="127.9" x2="383.8" y2="127.9"/><line x1="531.6" y1="127.9" x2="524.4" y2="127.9"/><line x1="376.6" y1="104.9" x2="380.40000000000003" y2="104.9"/><line x1="531.6" y1="104.9" x2="527.8000000000001" y2="104.9"/><line x1="376.6" y1="81.8" x2="383.8" y2="81.8"/><line x1="531.6" y1="81.8" x2="524.4" y2="81.8"/><line x1="376.6" y1="58.8" x2="380.40000000000003" y2="58.8"/><line x1="531.6" y1="58.8" x2="527.8000000000001" y2="58.8"/><line x1="376.6" y1="35.7" x2="383.8" y2="35.7"/><line x1="531.6" y1="35.7" x2="524.4" y2="35.7"/></g><g font-size="10.8" fill="#222"><g transform="translate(383.00,213.40) scale(1,1.0)"><text font-size="10.8" fill="#222" text-anchor="middle">0</text></g><g transform="translate(418.30,213.40) scale(1,1.0)"><text font-size="10.8" fill="#222" text-anchor="middle">100</text><g fill="#fff"><rect x="-8.89" y="-1.26" width="2.54" height="1.71"/><rect x="-5.29" y="-1.26" width="2.46" height="1.71"/></g></g><g transform="translate(453.60,213.40) scale(1,1.0)"><text font-size="10.8" fill="#222" text-anchor="middle">200</text></g><g transform="translate(488.90,213.40) scale(1,1.0)"><text font-size="10.8" fill="#222" text-anchor="middle">300</text></g><g transform="translate(524.20,213.40) scale(1,1.0)"><text font-size="10.8" fill="#222" text-anchor="middle">400</text></g><g transform="translate(364.40,40.40) scale(1,1.0)"><text font-size="12.7" fill="#222" text-anchor="end">2.7x10</text><g fill="#fff"><rect x="-13.86" y="-1.40" width="2.86" height="1.85"/><rect x="-9.75" y="-1.40" width="2.76" height="1.85"/></g></g><text x="364.5" y="34.1" font-size="7">5</text><g transform="translate(364.40,86.50) scale(1,1.0)"><text font-size="12.7" fill="#222" text-anchor="end">2.4x10</text><g fill="#fff"><rect x="-13.86" y="-1.40" width="2.86" height="1.85"/><rect x="-9.75" y="-1.40" width="2.76" height="1.85"/></g></g><text x="364.5" y="80.2" font-size="7">5</text><g transform="translate(364.40,132.60) scale(1,1.0)"><text font-size="12.7" fill="#222" text-anchor="end">2.1x10</text><g fill="#fff"><rect x="-27.27" y="-1.40" width="2.86" height="1.85"/><rect x="-23.16" y="-1.40" width="2.76" height="1.85"/><rect x="-13.86" y="-1.40" width="2.86" height="1.85"/><rect x="-9.75" y="-1.40" width="2.76" height="1.85"/></g></g><text x="364.5" y="126.3" font-size="7">5</text><g transform="translate(364.40,178.70) scale(1,1.0)"><text font-size="12.7" fill="#222" text-anchor="end">1.8x10</text><g fill="#fff"><rect x="-37.86" y="-1.40" width="2.86" height="1.85"/><rect x="-33.75" y="-1.40" width="2.76" height="1.85"/><rect x="-13.86" y="-1.40" width="2.86" height="1.85"/><rect x="-9.75" y="-1.40" width="2.76" height="1.85"/></g></g><text x="364.5" y="172.4" font-size="7">5</text></g><text x="459.2" y="229.2" font-size="12.3" fill="#222" text-anchor="middle"><tspan font-style="italic">T</tspan> (K)</text><text transform="translate(289.6,95.2) rotate(-90)" font-size="12.6" fill="#222" text-anchor="middle" font-style="italic">1/<tspan font-family="Liberation Serif">χ</tspan></text><text transform="translate(307.3,95.9) rotate(-90)" font-size="12.6" fill="#222" text-anchor="middle">(Oe-mol Sm/emu)</text><text x="387.3" y="34.2" font-size="16.5" fill="#111">(b)</text><g fill="#fff" stroke="#000"><circle cx="384.30" cy="77.80" r="5.7" stroke-width="0.95"/><circle cx="384.30" cy="98.50" r="5.7" stroke-width="0.95"/><circle cx="384.30" cy="107.00" r="5.7" stroke-width="0.95"/><circle cx="383.60" cy="121.50" r="5.7" stroke-width="0.95"/><circle cx="383.40" cy="131.00" r="5.7" stroke-width="0.95"/><circle cx="383.60" cy="140.00" r="5.7" stroke-width="0.95"/><circle cx="384.00" cy="149.00" r="5.7" stroke-width="0.95"/><circle cx="384.50" cy="158.00" r="5.7" stroke-width="0.95"/><circle cx="385.00" cy="166.00" r="5.7" stroke-width="0.95"/><circle cx="385.60" cy="174.00" r="5.7" stroke-width="0.95"/><circle cx="386.60" cy="183.50" r="5.7" stroke-width="0.95"/><circle cx="386.72" cy="180.50" r="5.7" stroke-width="0.95"/><circle cx="386.84" cy="177.50" r="5.7" stroke-width="0.95"/><circle cx="386.92" cy="174.51" r="5.7" stroke-width="0.95"/><circle cx="386.95" cy="171.51" r="5.7" stroke-width="0.95"/><circle cx="386.99" cy="168.51" r="5.7" stroke-width="0.95"/><circle cx="387.03" cy="165.51" r="5.7" stroke-width="0.95"/><circle cx="387.07" cy="162.51" r="5.7" stroke-width="0.95"/><circle cx="387.10" cy="160.01" r="5.7" stroke-width="0.95"/><circle cx="387.13" cy="157.51" r="5.7" stroke-width="0.95"/><circle cx="387.16" cy="155.01" r="5.7" stroke-width="0.95"/><circle cx="387.19" cy="152.51" r="5.7" stroke-width="0.95"/><circle cx="387.22" cy="150.01" r="5.7" stroke-width="0.95"/><circle cx="387.25" cy="147.51" r="5.7" stroke-width="0.95"/><circle cx="387.28" cy="145.01" r="5.7" stroke-width="0.95"/><circle cx="387.40" cy="142.52" r="5.7" stroke-width="0.95"/><circle cx="387.73" cy="140.04" r="5.7" stroke-width="0.95"/><circle cx="388.08" cy="137.56" r="5.7" stroke-width="0.95"/><circle cx="388.44" cy="135.09" r="5.7" stroke-width="0.95"/><circle cx="388.82" cy="132.62" r="5.7" stroke-width="0.95"/><circle cx="389.21" cy="130.15" r="5.7" stroke-width="0.95"/><circle cx="389.63" cy="127.68" r="5.7" stroke-width="0.95"/><circle cx="390.07" cy="125.22" r="5.7" stroke-width="0.95"/><circle cx="390.54" cy="122.77" r="5.7" stroke-width="0.95"/><circle cx="391.04" cy="120.32" r="5.7" stroke-width="0.95"/><circle cx="391.57" cy="117.87" r="5.7" stroke-width="0.95"/><circle cx="392.12" cy="115.43" r="5.7" stroke-width="0.95"/><circle cx="392.70" cy="113.00" r="5.7" stroke-width="0.95"/><circle cx="393.32" cy="110.58" r="5.7" stroke-width="0.95"/><circle cx="393.98" cy="108.17" r="5.7" stroke-width="0.95"/><circle cx="394.68" cy="105.77" r="5.7" stroke-width="0.95"/><circle cx="395.43" cy="103.39" r="5.7" stroke-width="0.95"/><circle cx="396.25" cy="101.02" r="5.7" stroke-width="0.95"/><circle cx="397.12" cy="98.68" r="5.7" stroke-width="0.95"/><circle cx="398.05" cy="96.36" r="5.7" stroke-width="1.1"/><circle cx="399.04" cy="94.07" r="5.7" stroke-width="1.1"/><circle cx="399.89" cy="92.25" r="5.7" stroke-width="1.1"/><circle cx="400.83" cy="90.49" r="5.7" stroke-width="1.1"/><circle cx="401.38" cy="89.53" r="5.7" stroke-width="1.1"/><circle cx="401.94" cy="88.59" r="5.7" stroke-width="1.1"/><circle cx="402.51" cy="87.65" r="5.7" stroke-width="1.1"/><circle cx="403.11" cy="86.72" r="5.7" stroke-width="1.1"/><circle cx="403.72" cy="85.81" r="5.7" stroke-width="1.1"/><circle cx="404.34" cy="84.90" r="5.7" stroke-width="1.1"/><circle cx="404.98" cy="84.01" r="5.7" stroke-width="1.1"/><circle cx="405.64" cy="83.13" r="5.7" stroke-width="1.1"/><circle cx="406.32" cy="82.26" r="5.7" stroke-width="1.1"/><circle cx="407.02" cy="81.41" r="5.7" stroke-width="1.1"/><circle cx="407.73" cy="80.57" r="5.7" stroke-width="1.1"/><circle cx="408.46" cy="79.75" r="5.7" stroke-width="1.1"/><circle cx="409.21" cy="78.95" r="5.7" stroke-width="1.1"/><circle cx="409.97" cy="78.15" r="5.7" stroke-width="1.1"/><circle cx="410.72" cy="77.34" r="5.7" stroke-width="1.1"/><circle cx="411.47" cy="76.54" r="5.7" stroke-width="1.1"/><circle cx="412.24" cy="75.76" r="5.7" stroke-width="1.1"/><circle cx="413.03" cy="74.99" r="5.7" stroke-width="1.1"/><circle cx="413.84" cy="74.24" r="5.7" stroke-width="1.1"/><circle cx="414.66" cy="73.51" r="5.7" stroke-width="1.1"/><circle cx="415.50" cy="72.80" r="5.7" stroke-width="1.1"/><circle cx="416.36" cy="72.11" r="5.7" stroke-width="1.1"/><circle cx="417.23" cy="71.44" r="5.7" stroke-width="1.1"/><circle cx="418.12" cy="70.79" r="5.7" stroke-width="1.1"/><circle cx="419.02" cy="70.16" r="5.7" stroke-width="1.1"/><circle cx="419.93" cy="69.55" r="5.7" stroke-width="1.1"/><circle cx="420.84" cy="68.93" r="5.7" stroke-width="1.1"/><circle cx="421.76" cy="68.32" r="5.7" stroke-width="1.1"/><circle cx="422.68" cy="67.73" r="5.7" stroke-width="1.1"/><circle cx="423.62" cy="67.16" r="5.7" stroke-width="1.1"/><circle cx="424.57" cy="66.61" r="5.7" stroke-width="1.1"/><circle cx="425.54" cy="66.07" r="5.7" stroke-width="1.35"/><circle cx="426.51" cy="65.55" r="5.7" stroke-width="1.35"/><circle cx="427.48" cy="65.05" r="5.7" stroke-width="1.35"/><circle cx="428.47" cy="64.56" r="5.7" stroke-width="1.35"/><circle cx="429.47" cy="64.10" r="5.7" stroke-width="1.35"/><circle cx="430.47" cy="63.64" r="5.7" stroke-width="1.35"/><circle cx="431.48" cy="63.20" r="5.7" stroke-width="1.35"/><circle cx="432.49" cy="62.78" r="5.7" stroke-width="1.35"/><circle cx="433.51" cy="62.37" r="5.7" stroke-width="1.35"/><circle cx="434.54" cy="61.98" r="5.7" stroke-width="1.35"/><circle cx="435.57" cy="61.60" r="5.7" stroke-width="1.35"/><circle cx="436.61" cy="61.23" r="5.7" stroke-width="1.35"/><circle cx="437.65" cy="60.88" r="5.7" stroke-width="1.35"/><circle cx="438.70" cy="60.54" r="5.7" stroke-width="1.35"/><circle cx="439.75" cy="60.21" r="5.7" stroke-width="1.35"/><circle cx="440.76" cy="59.77" r="5.7" stroke-width="1.35"/><circle cx="441.30" cy="59.52" r="5.7" stroke-width="1.35"/><circle cx="441.84" cy="59.26" r="5.7" stroke-width="1.35"/><circle cx="442.39" cy="59.02" r="5.7" stroke-width="1.35"/><circle cx="442.94" cy="58.77" r="5.7" stroke-width="1.35"/><circle cx="443.49" cy="58.53" r="5.7" stroke-width="1.35"/><circle cx="444.03" cy="58.28" r="5.7" stroke-width="1.35"/><circle cx="444.58" cy="58.05" r="5.7" stroke-width="1.35"/><circle cx="445.14" cy="57.81" r="5.7" stroke-width="1.35"/><circle cx="445.69" cy="57.58" r="5.7" stroke-width="1.35"/><circle cx="446.24" cy="57.34" r="5.7" stroke-width="1.35"/><circle cx="446.80" cy="57.11" r="5.7" stroke-width="1.35"/><circle cx="447.35" cy="56.89" r="5.7" stroke-width="1.35"/><circle cx="447.91" cy="56.66" r="5.7" stroke-width="1.35"/><circle cx="448.47" cy="56.44" r="5.7" stroke-width="1.35"/><circle cx="449.02" cy="56.22" r="5.7" stroke-width="1.35"/><circle cx="449.58" cy="56.00" r="5.7" stroke-width="1.35"/><circle cx="450.14" cy="55.78" r="5.7" stroke-width="1.35"/><circle cx="450.70" cy="55.57" r="5.7" stroke-width="1.35"/><circle cx="451.26" cy="55.36" r="5.7" stroke-width="1.35"/><circle cx="451.82" cy="55.14" r="5.7" stroke-width="1.35"/><circle cx="452.39" cy="54.94" r="5.7" stroke-width="1.35"/><circle cx="452.95" cy="54.73" r="5.7" stroke-width="1.35"/><circle cx="453.51" cy="54.52" r="5.7" stroke-width="1.35"/><circle cx="454.08" cy="54.32" r="5.7" stroke-width="1.35"/><circle cx="454.64" cy="54.12" r="5.7" stroke-width="1.35"/><circle cx="455.21" cy="53.92" r="5.7" stroke-width="1.35"/><circle cx="455.78" cy="53.72" r="5.7" stroke-width="1.35"/><circle cx="456.34" cy="53.53" r="5.7" stroke-width="1.35"/><circle cx="456.91" cy="53.33" r="5.7" stroke-width="1.35"/><circle cx="457.48" cy="53.14" r="5.7" stroke-width="1.35"/><circle cx="458.05" cy="52.95" r="5.7" stroke-width="1.35"/><circle cx="458.62" cy="52.76" r="5.7" stroke-width="1.35"/><circle cx="459.19" cy="52.57" r="5.7" stroke-width="1.35"/><circle cx="459.76" cy="52.38" r="5.7" stroke-width="1.35"/><circle cx="460.32" cy="52.17" r="5.7" stroke-width="1.35"/><circle cx="460.87" cy="51.93" r="5.7" stroke-width="1.35"/><circle cx="461.42" cy="51.69" r="5.7" stroke-width="1.35"/><circle cx="461.97" cy="51.46" r="5.7" stroke-width="1.35"/><circle cx="462.52" cy="51.22" r="5.7" stroke-width="1.35"/><circle cx="463.07" cy="50.99" r="5.7" stroke-width="1.35"/><circle cx="463.63" cy="50.76" r="5.7" stroke-width="1.35"/><circle cx="464.18" cy="50.53" r="5.7" stroke-width="1.35"/><circle cx="464.74" cy="50.30" r="5.7" stroke-width="1.35"/><circle cx="465.29" cy="50.07" r="5.7" stroke-width="1.35"/><circle cx="465.85" cy="49.84" r="5.7" stroke-width="1.35"/><circle cx="466.40" cy="49.61" r="5.7" stroke-width="1.35"/><circle cx="466.96" cy="49.39" r="5.7" stroke-width="1.35"/><circle cx="467.51" cy="49.16" r="5.7" stroke-width="1.35"/><circle cx="468.07" cy="48.94" r="5.7" stroke-width="1.35"/><circle cx="468.63" cy="48.72" r="5.7" stroke-width="1.35"/><circle cx="469.19" cy="48.50" r="5.7" stroke-width="1.35"/><circle cx="469.75" cy="48.28" r="5.7" stroke-width="1.35"/><circle cx="470.31" cy="48.07" r="5.7" stroke-width="1.35"/><circle cx="470.87" cy="47.86" r="5.7" stroke-width="1.35"/><circle cx="471.43" cy="47.65" r="5.7" stroke-width="1.35"/><circle cx="472.00" cy="47.45" r="5.7" stroke-width="1.35"/><circle cx="472.57" cy="47.26" r="5.7" stroke-width="1.35"/><circle cx="473.14" cy="47.07" r="5.7" stroke-width="1.35"/><circle cx="473.71" cy="46.88" r="5.7" stroke-width="1.35"/><circle cx="474.28" cy="46.69" r="5.7" stroke-width="1.35"/><circle cx="474.85" cy="46.51" r="5.7" stroke-width="1.35"/><circle cx="475.42" cy="46.32" r="5.7" stroke-width="1.35"/><circle cx="475.99" cy="46.14" r="5.7" stroke-width="1.35"/><circle cx="476.56" cy="45.95" r="5.7" stroke-width="1.35"/><circle cx="477.13" cy="45.77" r="5.7" stroke-width="1.35"/><circle cx="477.70" cy="45.59" r="5.7" stroke-width="1.35"/><circle cx="478.27" cy="45.41" r="5.7" stroke-width="1.35"/><circle cx="478.85" cy="45.23" r="5.7" stroke-width="1.35"/><circle cx="479.42" cy="45.05" r="5.7" stroke-width="1.35"/><circle cx="479.99" cy="44.87" r="5.7" stroke-width="1.35"/><circle cx="480.56" cy="44.69" r="5.7" stroke-width="1.35"/><circle cx="481.14" cy="44.52" r="5.7" stroke-width="1.35"/><circle cx="481.71" cy="44.34" r="5.7" stroke-width="1.35"/><circle cx="482.29" cy="44.16" r="5.7" stroke-width="1.35"/><circle cx="482.86" cy="43.99" r="5.7" stroke-width="1.35"/><circle cx="483.43" cy="43.82" r="5.7" stroke-width="1.35"/><circle cx="484.01" cy="43.64" r="5.7" stroke-width="1.35"/><circle cx="484.58" cy="43.47" r="5.7" stroke-width="1.35"/><circle cx="485.16" cy="43.31" r="5.7" stroke-width="1.35"/><circle cx="485.74" cy="43.17" r="5.7" stroke-width="1.35"/><circle cx="486.33" cy="43.03" r="5.7" stroke-width="1.35"/><circle cx="486.91" cy="42.89" r="5.7" stroke-width="1.35"/><circle cx="487.50" cy="42.75" r="5.7" stroke-width="1.35"/><circle cx="488.08" cy="42.62" r="5.7" stroke-width="1.35"/><circle cx="488.66" cy="42.48" r="5.7" stroke-width="1.35"/><circle cx="489.25" cy="42.34" r="5.7" stroke-width="1.35"/><circle cx="489.83" cy="42.21" r="5.7" stroke-width="1.35"/><circle cx="490.42" cy="42.07" r="5.7" stroke-width="1.35"/><circle cx="491.00" cy="41.94" r="5.7" stroke-width="1.35"/><circle cx="491.59" cy="41.81" r="5.7" stroke-width="1.35"/><circle cx="492.17" cy="41.67" r="5.7" stroke-width="1.35"/><circle cx="492.76" cy="41.54" r="5.7" stroke-width="1.35"/><circle cx="493.34" cy="41.41" r="5.7" stroke-width="1.35"/><circle cx="493.93" cy="41.28" r="5.7" stroke-width="1.35"/><circle cx="494.51" cy="41.15" r="5.7" stroke-width="1.35"/><circle cx="495.10" cy="41.02" r="5.7" stroke-width="1.35"/><circle cx="495.69" cy="40.89" r="5.7" stroke-width="1.35"/><circle cx="496.27" cy="40.77" r="5.7" stroke-width="1.35"/><circle cx="496.86" cy="40.64" r="5.7" stroke-width="1.35"/><circle cx="497.45" cy="40.51" r="5.7" stroke-width="1.35"/><circle cx="498.03" cy="40.39" r="5.7" stroke-width="1.35"/><circle cx="498.62" cy="40.26" r="5.7" stroke-width="1.35"/><circle cx="499.21" cy="40.13" r="5.7" stroke-width="1.35"/><circle cx="499.79" cy="40.01" r="5.7" stroke-width="1.35"/><circle cx="500.38" cy="39.89" r="5.7" stroke-width="1.35"/><circle cx="500.97" cy="39.76" r="5.7" stroke-width="1.35"/><circle cx="501.55" cy="39.64" r="5.7" stroke-width="1.35"/><circle cx="502.14" cy="39.53" r="5.7" stroke-width="1.35"/><circle cx="502.74" cy="39.44" r="5.7" stroke-width="1.35"/><circle cx="503.33" cy="39.36" r="5.7" stroke-width="1.35"/><circle cx="504.92" cy="39.14" r="5.7" stroke-width="1.35"/><circle cx="506.50" cy="38.93" r="5.7" stroke-width="1.35"/><circle cx="508.09" cy="38.71" r="5.7" stroke-width="1.35" fill="none"/><circle cx="509.67" cy="38.51" r="5.7" stroke-width="1.35" fill="none"/><circle cx="511.26" cy="38.30" r="5.7" stroke-width="1.35" fill="none"/><circle cx="512.85" cy="38.10" r="5.7" stroke-width="1.35" fill="none"/><circle cx="518.4" cy="41.6" r="5.7" stroke-width="0.95"/></g><g fill="#333"><circle cx="384.3" cy="77.8" r="0.6"/><circle cx="384.3" cy="98.5" r="0.6"/><circle cx="384.3" cy="107.0" r="0.6"/><circle cx="383.6" cy="121.5" r="0.6"/><circle cx="518.4" cy="41.6" r="0.6"/></g><polyline points="385.8,170.4 386.3,164.6 386.8,159.3 387.3,154.4 387.8,149.9 388.3,145.7 388.8,141.8 389.3,138.1 389.8,134.7 390.3,131.5 390.8,128.4 391.3,125.6 391.8,122.9 392.3,120.4 392.8,118.0 393.3,115.7 393.8,113.5 394.3,111.5 394.8,109.5 395.3,107.7 395.8,105.9 396.3,104.2 396.8,102.6 397.3,101.1 397.8,99.6 398.3,98.2 398.8,96.9 399.3,95.6 399.8,94.3 400.3,93.1 400.8,92.0 401.3,90.9 401.8,89.8 402.3,88.8 402.8,87.8 403.3,86.8 403.8,85.9 404.3,85.0 404.8,84.1 405.3,83.3 405.8,82.5 406.3,81.7 406.8,81.0 407.3,80.2 407.8,79.5 408.3,78.8 408.8,78.2 409.3,77.5 409.8,76.9 410.3,76.3 410.8,75.7 411.3,75.1 411.8,74.5 412.3,74.0 412.8,73.4 413.3,72.9 413.8,72.4 414.3,71.9 414.8,71.4 415.3,70.9 415.8,70.5 416.3,70.0 416.8,69.6 417.3,69.2 417.8,68.7 418.3,68.3 418.8,67.9 419.3,67.5 419.8,67.2 420.3,66.8 420.8,66.4 421.3,66.1 421.8,65.7 422.3,65.4 422.8,65.0 423.3,64.7 423.8,64.4 424.3,64.1 424.8,63.8 425.3,63.5 425.8,63.2 426.3,62.9 426.8,62.6 427.3,62.3 427.8,62.0 428.3,61.8 428.8,61.5 429.3,61.3 429.8,61.0 430.3,60.8 430.8,60.5 431.3,60.3 431.8,60.0 432.3,59.8 432.8,59.6 433.3,59.4 433.8,59.1 434.3,58.9 434.8,58.7 435.3,58.5 435.8,58.3 436.3,58.1 436.8,57.9 437.3,57.7 437.8,57.5 438.3,57.3 438.8,57.2 439.3,57.0 439.8,56.8 440.3,56.6 440.8,56.4 441.3,56.2 441.8,56.0 442.3,55.8 442.8,55.7 443.3,55.5 443.8,55.3 444.3,55.1 444.8,54.9 445.3,54.8 445.8,54.6 446.3,54.4 446.8,54.3 447.3,54.1 447.8,53.9 448.3,53.8 448.8,53.6 449.3,53.5 449.8,53.3 450.3,53.1 450.8,53.0 451.3,52.8 451.8,52.7 452.3,52.6 452.8,52.4 453.3,52.3 453.8,52.1 454.3,52.0 454.8,51.8 455.3,51.7 455.8,51.6 456.3,51.4 456.8,51.3 457.3,51.2 457.8,51.1 458.3,50.9 458.8,50.8 459.3,50.7 459.8,50.6 460.3,50.4 460.8,50.3 461.3,50.2 461.8,50.1 462.3,50.0 462.8,49.8 463.3,49.7 463.8,49.6 464.3,49.5 464.8,49.4 465.3,49.3 465.8,49.2 466.3,49.1 466.8,49.0 467.3,48.8 467.8,48.7 468.3,48.6 468.8,48.5 469.3,48.4 469.8,48.3 470.3,48.2 470.8,48.2 471.3,48.1 471.8,48.0 472.3,47.9 472.8,47.8 473.3,47.7 473.8,47.6 474.3,47.6 474.8,47.5 475.3,47.4 475.8,47.3 476.3,47.2 476.8,47.2 477.3,47.1 477.8,47.0 478.3,46.9 478.8,46.9 479.3,46.8 479.8,46.7 480.3,46.6 480.8,46.6 481.3,46.5 481.8,46.4 482.3,46.4 482.8,46.3 483.3,46.2 483.8,46.2 484.3,46.1 484.8,46.0 485.3,46.0 485.8,45.9 486.3,45.8 486.8,45.8 487.3,45.7 487.8,45.6 488.3,45.6 488.8,45.5 489.3,45.4 489.8,45.4 490.3,45.3 490.8,45.3 491.3,45.2 491.8,45.1 492.3,45.1 492.8,45.0 493.3,45.0 493.8,44.9 494.3,44.9 494.8,44.8 495.3,44.7 495.8,44.7 496.3,44.6 496.8,44.6 497.3,44.5 497.8,44.5 498.3,44.4 498.8,44.4 499.3,44.3 499.8,44.3 500.3,44.2 500.8,44.2 501.3,44.1 501.8,44.1 502.3,44.0 502.8,44.0 503.3,43.9 503.8,43.9 504.3,43.8 504.8,43.8 505.3,43.7 505.8,43.7 506.3,43.6 506.8,43.6 507.3,43.5 507.8,43.5 508.3,43.4 508.8,43.4 509.3,43.4 509.8,43.3 510.3,43.3 510.8,43.2 511.3,43.2 511.8,43.1 512.3,43.1" fill="none" stroke="#f00" stroke-width="3.2" stroke-linecap="butt"/><circle cx="430.8" cy="162.5" r="5.8" fill="#fff" stroke="#000" stroke-width="0.9"/><circle cx="430.8" cy="162.5" r="0.6" fill="#000"/><line x1="416" y1="176.6" x2="446.6" y2="176.6" stroke="#f00" stroke-width="3"/><g font-size="12.6" fill="#111"><text x="449" y="166.3">data (200 Oe)</text><text x="449" y="181.8">Mod. CW fit</text></g>
</svg>
</body></html>
